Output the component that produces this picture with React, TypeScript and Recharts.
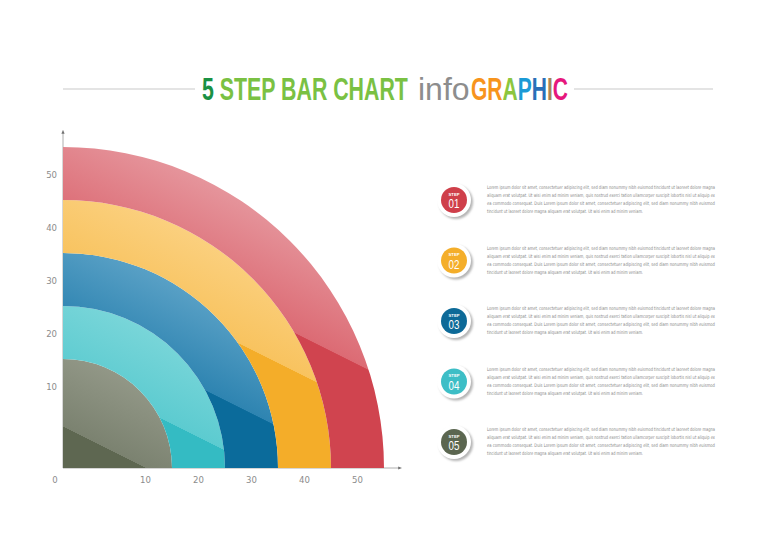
import React from "react";
import { RadialBarChart, RadialBar, PolarAngleAxis, PolarRadiusAxis, Sector } from "recharts";

// bands from the inside out
const bandLabels = ["10", "20", "30", "40", "50"];
const bandSweep = [100, 100, 100, 100, 100];

const stepNumbers = ["01", "02", "03", "04", "05"];
const stepLines = [
  "Lorem ipsum dolor sit amet, consectetuer adipiscing elit, sed diam nonummy nibh euismod tincidunt ut laoreet dolore magna",
  "aliquam erat volutpat. Ut wisi enim ad minim veniam, quis nostrud exerci tation ullamcorper suscipit lobortis nisl ut aliquip ex",
  "ea commodo consequat. Duis Lorem ipsum dolor sit amet, consectetuer adipiscing elit, sed diam nonummy nibh euismod",
  "tincidunt ut laoreet dolore magna aliquam erat volutpat. Ut wisi enim ad minim veniam.",
];

// light / mid / dark shade per band, and where the dark part starts
const bandShades = [
  ["#969b8b", "#7b8270", "#5e6751"],
  ["#80d8db", "#5ccbd0", "#34bbc3"],
  ["#66a9cc", "#2e84b1", "#0b6b9b"],
  ["#fcd58b", "#f8c35f", "#f4ad29"],
  ["#e9a5ab", "#dc6b74", "#d0444f"],
];
const shadeSplit = [0.78, 0.575, 0.5, 0.41, 0.42];
const stepColors = ["#cf3f4a", "#f4ae2a", "#0d6a98", "#3dbec6", "#5b6650"];
const graphicColors = ["#f7941d", "#f7941d", "#8dc63f", "#1b9ad6", "#2a6fb8", "#a7845a", "#e6177d"];

const CX = 63;
const CY = 468;
const R_IN = 56;
const R_OUT = 321;
const COND = "'DejaVu Sans Condensed', sans-serif";
const SANS = "'Liberation Sans', Arial, sans-serif";

const chartData = bandLabels.map((name, i) => ({ name, value: bandSweep[i] }));

function BandShape(props: any) {
  const name = props.payload?.name ?? props.name;
  const i = bandLabels.indexOf(name);
  return (
    <Sector
      cx={props.cx}
      cy={props.cy}
      innerRadius={i === 0 ? 0 : props.innerRadius}
      outerRadius={props.outerRadius}
      startAngle={props.startAngle}
      endAngle={props.endAngle}
      fill={`url(#band-${i})`}
    />
  );
}

function BandTick(props: any) {
  const { x, y, payload } = props;
  const r = x - CX;
  return (
    <g fontFamily={COND} fontSize={9.5} fill="#8c8c8c">
      <text x={x} y={y + 15} textAnchor="middle">{payload.value}</text>
      <text x={CX - 6} y={CY - r + 4} textAnchor="end">{payload.value}</text>
    </g>
  );
}

function Axes() {
  return (
    <svg width={768} height={549} style={{ position: "absolute", left: 0, top: 0 }}>
      <defs>
        <marker id="arrow" viewBox="0 0 10 10" refX="2" refY="5" markerWidth="5" markerHeight="5" orient="auto">
          <path d="M0,1 L10,5 L0,9 z" fill="#707070" />
        </marker>
      </defs>
      <line x1={CX} y1={CY} x2={CX + R_OUT + 15} y2={CY} stroke="#9a9a9a" strokeWidth={0.8} markerEnd="url(#arrow)" />
      <line x1={CX} y1={CY} x2={CX} y2={CY - R_OUT - 14} stroke="#9a9a9a" strokeWidth={0.8} markerEnd="url(#arrow)" />
      <text x={CX - 8} y={CY + 15} fontFamily={COND} fontSize={9.5} fill="#8c8c8c" textAnchor="middle">0</text>
    </svg>
  );
}

function Header() {
  return (
    <g>
      <line x1={63} y1={89} x2={195} y2={89} stroke="#c9c9c9" strokeWidth={1} />
      <line x1={574} y1={89} x2={713} y2={89} stroke="#c9c9c9" strokeWidth={1} />
      <text transform="translate(202,100) scale(0.667,1)" fontFamily={SANS} fontWeight="bold" fontSize={32}>
        <tspan fill="#1a9144">5</tspan>
        <tspan fill="#7ac143"> STEP BAR CHART</tspan>
      </text>
      <text x={418} y={100} fontFamily={SANS} fontSize={32} fill="#8d8d8d">
        info
      </text>
      <text transform="translate(471,100) scale(0.657,1)" fontFamily={SANS} fontWeight="bold" fontSize={32}>
        {"GRAPHIC".split("").map((ch, i) => (
          <tspan key={i} fill={graphicColors[i]}>{ch}</tspan>
        ))}
      </text>
    </g>
  );
}

function Steps() {
  return (
    <g>
      <defs>
        <filter id="ringShadow" x="-50%" y="-50%" width="200%" height="200%">
          <feGaussianBlur stdDeviation="1.2" />
        </filter>
      </defs>
      {stepNumbers.map((num, i) => {
        const cy = 200 + i * 60.5;
        return (
          <g key={num}>
            <circle cx={456} cy={cy + 2} r={17} fill="#b5b5b5" filter="url(#ringShadow)" />
            <circle cx={454} cy={cy} r={17} fill="#ffffff" />
            <circle cx={454} cy={cy} r={13} fill={stepColors[i]} />
            <text x={454} y={cy - 4.5} textAnchor="middle" fontFamily={SANS} fontWeight="bold" fontSize={4.2} fill="#fff">STEP</text>
            <text transform={`translate(454,${cy + 8}) scale(0.75,1)`} textAnchor="middle" fontFamily={SANS} fontSize={13} fill="#fff">{num}</text>
            {stepLines.map((line, j) => (
              <text
                key={j}
                x={487}
                y={cy - 11 + j * 8}
                fontFamily={COND}
                fontSize={4.9}
                fill="#858585"
                textLength={j < 3 ? 228 : 156}
                lengthAdjust="spacingAndGlyphs"
              >
                {line}
              </text>
            ))}
          </g>
        );
      })}
    </g>
  );
}

export default function App() {
  return (
    <div style={{ position: "relative", width: 768, height: 549, background: "#ffffff", overflow: "hidden" }}>
      <style>{"body{margin:0}"}</style>
      <Axes />
      <div style={{ position: "absolute", left: 0, top: 0 }}>
        <RadialBarChart
          width={768}
          height={549}
          cx={CX}
          cy={CY}
          innerRadius={R_IN}
          outerRadius={R_OUT}
          startAngle={90}
          endAngle={0}
          data={chartData}
          barCategoryGap={0}
          barGap={0}
          margin={{ top: 0, right: 0, bottom: 0, left: 0 }}
        >
          <defs>
            {bandShades.map(([light, mid, dark], i) => (
              <linearGradient key={i} id={`band-${i}`} x1="0.5" y1="0" x2="0.053" y2="0.894">
                <stop offset="0" stopColor={light} />
                <stop offset={shadeSplit[i] - 0.002} stopColor={mid} />
                <stop offset={shadeSplit[i]} stopColor={dark} />
                <stop offset="1" stopColor={dark} />
              </linearGradient>
            ))}
          </defs>
          <PolarAngleAxis type="number" domain={[0, 100]} tick={false} axisLine={false} />
          <PolarRadiusAxis type="category" dataKey="name" angle={0} axisLine={false} tickLine={false} tick={<BandTick />} />
          <RadialBar dataKey="value" shape={BandShape} isAnimationActive={false} />
        </RadialBarChart>
      </div>
      <svg width={768} height={549} style={{ position: "absolute", left: 0, top: 0, pointerEvents: "none" }}>
        <Header />
        <Steps />
      </svg>
    </div>
  );
}
